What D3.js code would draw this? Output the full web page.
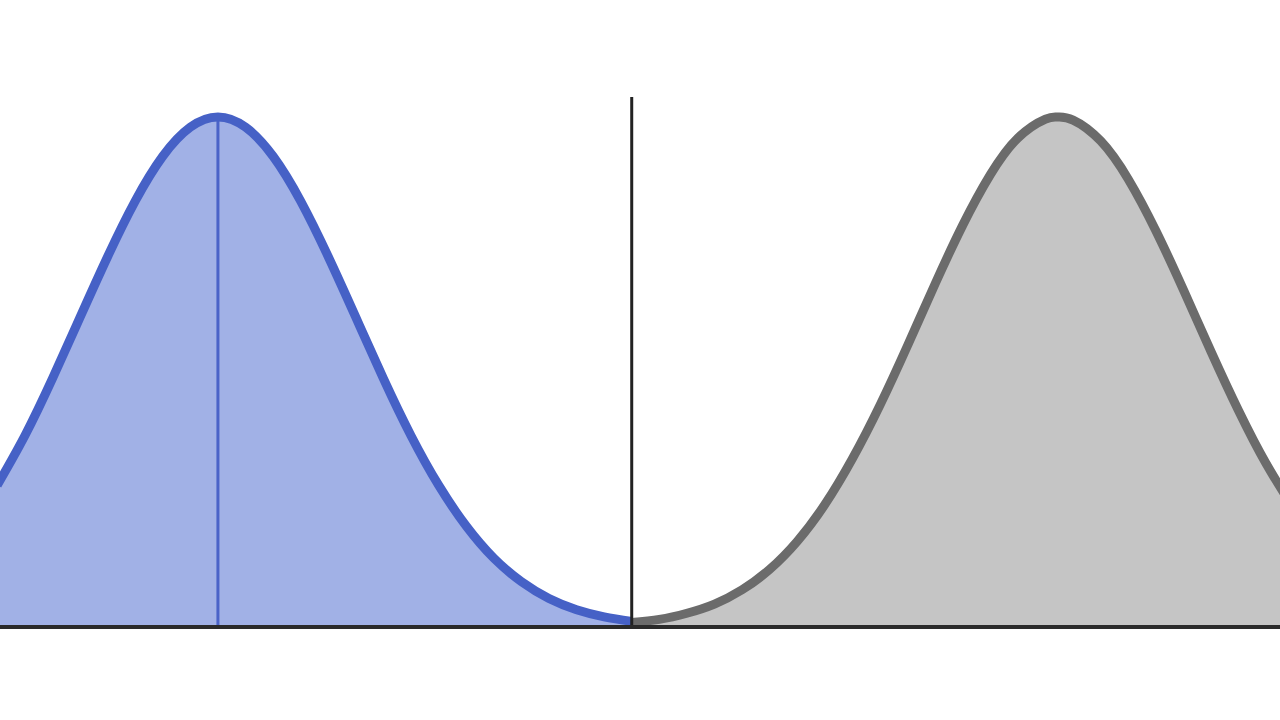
<!DOCTYPE html>
<html>
<head>
<meta charset="utf-8">
<script src="https://cdn.jsdelivr.net/npm/d3@7"></script>
<style>
  html, body { margin: 0; padding: 0; background: #fff; }
  svg { display: block; }
</style>
</head>
<body>
<svg id="chart"></svg>
<script>
// curve heights (relative to the peak), x in sd units
var blueX = [-1.6, -1.4, -1.2, -1.0, -0.8, -0.6, -0.4, -0.2, 0, 0.2, 0.4, 0.6, 0.8,
             1.0, 1.2, 1.4, 1.6, 1.8, 2.0, 2.2, 2.4, 2.6, 2.8, 3.0];
var blueY = [0.278, 0.375, 0.487, 0.607, 0.726, 0.835, 0.923, 0.980, 1.0, 0.980, 0.923, 0.835, 0.726,
             0.607, 0.487, 0.375, 0.278, 0.198, 0.135, 0.089, 0.056, 0.034, 0.020, 0.011];

var grayX = [3.0, 3.2, 3.4, 3.6, 3.8, 4.0, 4.2, 4.4, 4.6, 4.8, 5.0, 5.2, 5.4, 5.6, 5.8,
             6.0, 6.09, 6.2, 6.4, 6.6, 6.8, 7.0, 7.2, 7.4, 7.6, 7.8];
var grayY = [0.009, 0.015, 0.027, 0.045, 0.073, 0.113, 0.168, 0.24, 0.33, 0.435, 0.552, 0.673,
             0.788, 0.887, 0.959, 0.996, 1.0, 0.994, 0.953, 0.878, 0.777, 0.661, 0.54, 0.424,
             0.32, 0.232];

var blueMean = 0;
var divider = 3.0;

var width = 1280, height = 720;

var svg = d3.select("#chart")
    .attr("width", width)
    .attr("height", height);

var x = d3.scaleLinear()
    .domain([-1.58, 7.70])
    .range([0, width]);

var y = d3.scaleLinear()
    .domain([0, 1])
    .range([627, 117]);

var blue = blueX.map(function (d, i) { return { x: d, y: blueY[i] }; });
var gray = grayX.map(function (d, i) { return { x: d, y: grayY[i] }; });

var area = d3.area()
    .x(function (d) { return x(d.x); })
    .y0(y(0))
    .y1(function (d) { return y(d.y); })
    .curve(d3.curveNatural);

var line = d3.line()
    .x(function (d) { return x(d.x); })
    .y(function (d) { return y(d.y); })
    .curve(d3.curveNatural);

// fills
svg.append("path").datum(blue)
    .attr("d", area)
    .attr("fill", "#a1b1e6");

svg.append("path").datum(gray)
    .attr("d", area)
    .attr("fill", "#c5c5c5");

// mean line of the blue curve
svg.append("line")
    .attr("x1", x(blueMean)).attr("x2", x(blueMean))
    .attr("y1", y(1)).attr("y2", y(0))
    .attr("stroke", "#4a63c8")
    .attr("stroke-width", 3);

// outlines
svg.append("path").datum(blue)
    .attr("d", line)
    .attr("fill", "none")
    .attr("stroke", "#4661c6")
    .attr("stroke-width", 9);

svg.append("path").datum(gray)
    .attr("d", line)
    .attr("fill", "none")
    .attr("stroke", "#6b6b6b")
    .attr("stroke-width", 9);

// divider
svg.append("line")
    .attr("x1", x(divider)).attr("x2", x(divider))
    .attr("y1", 97).attr("y2", y(0))
    .attr("stroke", "#222")
    .attr("stroke-width", 3);

// baseline
svg.append("line")
    .attr("x1", 0).attr("x2", width)
    .attr("y1", y(0)).attr("y2", y(0))
    .attr("stroke", "#2a2a2a")
    .attr("stroke-width", 4);
</script>
</body>
</html>
